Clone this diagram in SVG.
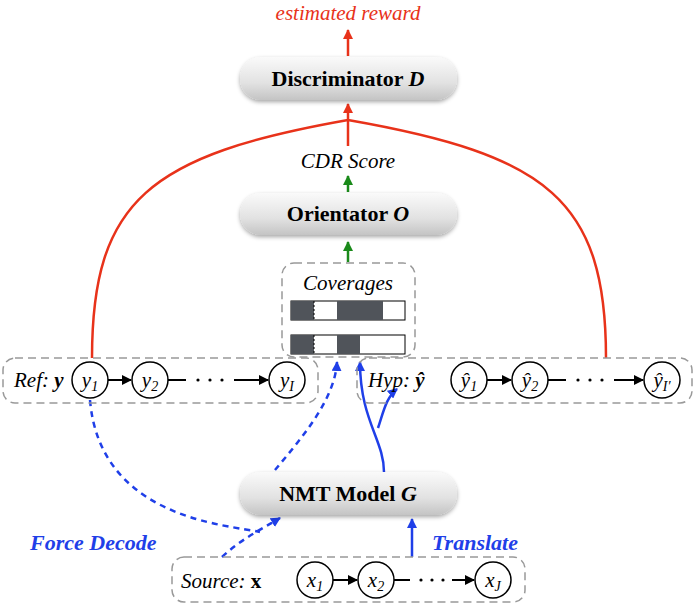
<svg xmlns="http://www.w3.org/2000/svg" width="700" height="612" viewBox="0 0 700 612">
<defs>
<linearGradient id="g" x1="0" y1="0" x2="0" y2="1"><stop offset="0" stop-color="#fafafa"/><stop offset="0.6" stop-color="#e2e2e2"/><stop offset="1" stop-color="#c4c4c4"/></linearGradient>
<filter id="sh" x="-10%" y="-20%" width="120%" height="150%"><feDropShadow dx="0" dy="2" stdDeviation="2" flood-color="#000" flood-opacity="0.35"/></filter>
<marker id="ar" viewBox="0 0 10 10" refX="9" refY="5" markerWidth="4" markerHeight="4" orient="auto"><path d="M0,0L10,5L0,10z" fill="#e8321a"/></marker>
<marker id="ag" viewBox="0 0 10 10" refX="9" refY="5" markerWidth="4" markerHeight="4" orient="auto"><path d="M0,0L10,5L0,10z" fill="#1a8a1a"/></marker>
<marker id="ab" viewBox="0 0 10 10" refX="9" refY="5" markerWidth="4" markerHeight="4" orient="auto"><path d="M0,0L10,5L0,10z" fill="#1f3fe8"/></marker>
<marker id="ak" viewBox="0 0 10 10" refX="9" refY="5" markerWidth="5" markerHeight="5" orient="auto"><path d="M0,0L10,5L0,10z" fill="#000"/></marker>
</defs>
<style>
.box{fill:url(#g);filter:url(#sh)}
.bt{font-family:"Liberation Serif",serif;font-weight:bold;font-size:22px;text-anchor:middle}
.it{font-family:"Liberation Serif",serif;font-style:italic;font-size:21px}
.dash{fill:none;stroke:#999;stroke-width:1.5;stroke-dasharray:8 5}
.c{fill:#fff;stroke:#000;stroke-width:1.5}
.red{fill:none;stroke:#e8321a;stroke-width:2.5}
.grn{fill:none;stroke:#1a8a1a;stroke-width:2.5}
.blu{fill:none;stroke:#1f3fe8;stroke-width:2.5}
.bd{fill:none;stroke:#1f3fe8;stroke-width:2.5;stroke-dasharray:6 5}
.k{stroke:#000;stroke-width:2}
.dot{fill:#000}
.dk{fill:#50545a}
.bl{font-family:"Liberation Serif",serif;font-weight:bold;font-style:italic;font-size:22px;fill:#1f3fe8}
</style>
<text x="348" y="20" class="it" fill="#e8321a" text-anchor="middle">estimated reward</text>
<g id="connectors">
<path class="red" d="M348,56V30" marker-end="url(#ar)"/>
<path class="red" d="M348,146V104" marker-end="url(#ar)"/>
<path class="red" d="M92,358C92,200 150,155 348,120"/>
<path class="red" d="M606,358C606,200 548,155 348,120"/>
<path class="grn" d="M348,192V176" marker-end="url(#ag)"/>
<path class="grn" d="M348,262V242" marker-end="url(#ag)"/>
<path class="bd" d="M90,400C100,520 230,525 260,532"/>
<path class="bd" d="M222,557C240,540 260,530 280,518" marker-end="url(#ab)"/>
<path class="bd" d="M275,470C300,440 335,400 337,362" marker-end="url(#ab)"/>
<path class="blu" d="M384,472C384,440 360,420 360,362" marker-end="url(#ab)"/>
<path class="blu" d="M378,428C384,410 386,398 397,389" marker-end="url(#ab)"/>
<path class="blu" d="M412,557V519" marker-end="url(#ab)"/>
</g>
<g id="disc"><rect class="box" x="240" y="57" width="217" height="43" rx="21"/><text class="bt" x="348" y="86">Discriminator <tspan font-style="italic">D</tspan></text></g>
<text x="348" y="168" class="it" text-anchor="middle">CDR Score</text>
<g id="orient"><rect class="box" x="240" y="193" width="217" height="42" rx="21"/><text class="bt" x="348" y="221">Orientator <tspan font-style="italic">O</tspan></text></g>
<g id="cov">
<rect class="dash" x="282" y="263" width="133" height="94" rx="12"/>
<text x="348" y="290" class="it" text-anchor="middle">Coverages</text>
<rect x="291" y="301" width="114" height="19" fill="#fff" stroke="#000"/>
<rect class="dk" x="291" y="301" width="23" height="19"/><rect class="dk" x="337" y="301" width="46" height="19"/>
<rect x="291" y="335" width="114" height="19" fill="#fff" stroke="#000"/>
<rect class="dk" x="291" y="335" width="23" height="19"/><rect class="dk" x="337" y="335" width="23" height="19"/>
<path d="M314,301v19M314,335v19" stroke="#000" stroke-dasharray="2 2"/>
</g>
<g id="ref">
<rect class="dash" x="3" y="358" width="315" height="45" rx="12"/>
<text x="14" y="387" class="it">Ref: <tspan font-weight="bold">y</tspan></text>
<circle class="c" cx="90" cy="380" r="18"/><text x="90" y="387" class="it" text-anchor="middle">y<tspan font-size="14" dy="4">1</tspan></text>
<circle class="c" cx="150" cy="380" r="18"/><text x="150" y="387" class="it" text-anchor="middle">y<tspan font-size="14" dy="4">2</tspan></text>
<circle class="c" cx="287" cy="380" r="18"/><text x="287" y="387" class="it" text-anchor="middle">y<tspan font-size="14" dy="4">I</tspan></text>
<path class="k" d="M108,380H131" marker-end="url(#ak)"/><path class="k" d="M168,380H186"/><circle class="dot" cx="198" cy="380" r="1.6"/><circle class="dot" cx="210" cy="380" r="1.6"/><circle class="dot" cx="222" cy="380" r="1.6"/><path class="k" d="M234,380H268" marker-end="url(#ak)"/>
</g>
<g id="hyp">
<rect class="dash" x="357" y="358" width="335" height="45" rx="12"/>
<text x="368" y="387" class="it">Hyp: <tspan font-weight="bold">ŷ</tspan></text>
<circle class="c" cx="469" cy="380" r="18"/><text x="469" y="387" class="it" text-anchor="middle">ŷ<tspan font-size="14" dy="4">1</tspan></text>
<circle class="c" cx="530" cy="380" r="18"/><text x="530" y="387" class="it" text-anchor="middle">ŷ<tspan font-size="14" dy="4">2</tspan></text>
<circle class="c" cx="662" cy="380" r="18"/><text x="662" y="387" class="it" text-anchor="middle">ŷ<tspan font-size="14" dy="4">I′</tspan></text>
<path class="k" d="M487,380H511" marker-end="url(#ak)"/><path class="k" d="M548,380H566"/><circle class="dot" cx="578" cy="380" r="1.6"/><circle class="dot" cx="590" cy="380" r="1.6"/><circle class="dot" cx="602" cy="380" r="1.6"/><path class="k" d="M614,380H643" marker-end="url(#ak)"/>
</g>
<g id="nmt"><rect class="box" x="240" y="472" width="217" height="43" rx="21"/><text class="bt" x="348" y="501">NMT Model <tspan font-style="italic">G</tspan></text></g>
<text x="30" y="550" class="bl">Force Decode</text>
<text x="432" y="550" class="bl">Translate</text>
<g id="src">
<rect class="dash" x="172" y="557" width="353" height="45" rx="12"/>
<text x="181" y="588" class="it">Source: <tspan font-weight="bold" font-style="normal">x</tspan></text>
<circle class="c" cx="315" cy="580" r="18"/><text x="315" y="587" class="it" text-anchor="middle">x<tspan font-size="14" dy="4">1</tspan></text>
<circle class="c" cx="376" cy="580" r="18"/><text x="376" y="587" class="it" text-anchor="middle">x<tspan font-size="14" dy="4">2</tspan></text>
<circle class="c" cx="493" cy="580" r="18"/><text x="493" y="587" class="it" text-anchor="middle">x<tspan font-size="14" dy="4">J</tspan></text>
<path class="k" d="M333,580H357" marker-end="url(#ak)"/><path class="k" d="M394,580H410"/><circle class="dot" cx="421" cy="580" r="1.6"/><circle class="dot" cx="432" cy="580" r="1.6"/><circle class="dot" cx="443" cy="580" r="1.6"/><path class="k" d="M452,580H474" marker-end="url(#ak)"/>
</g>
</svg>
